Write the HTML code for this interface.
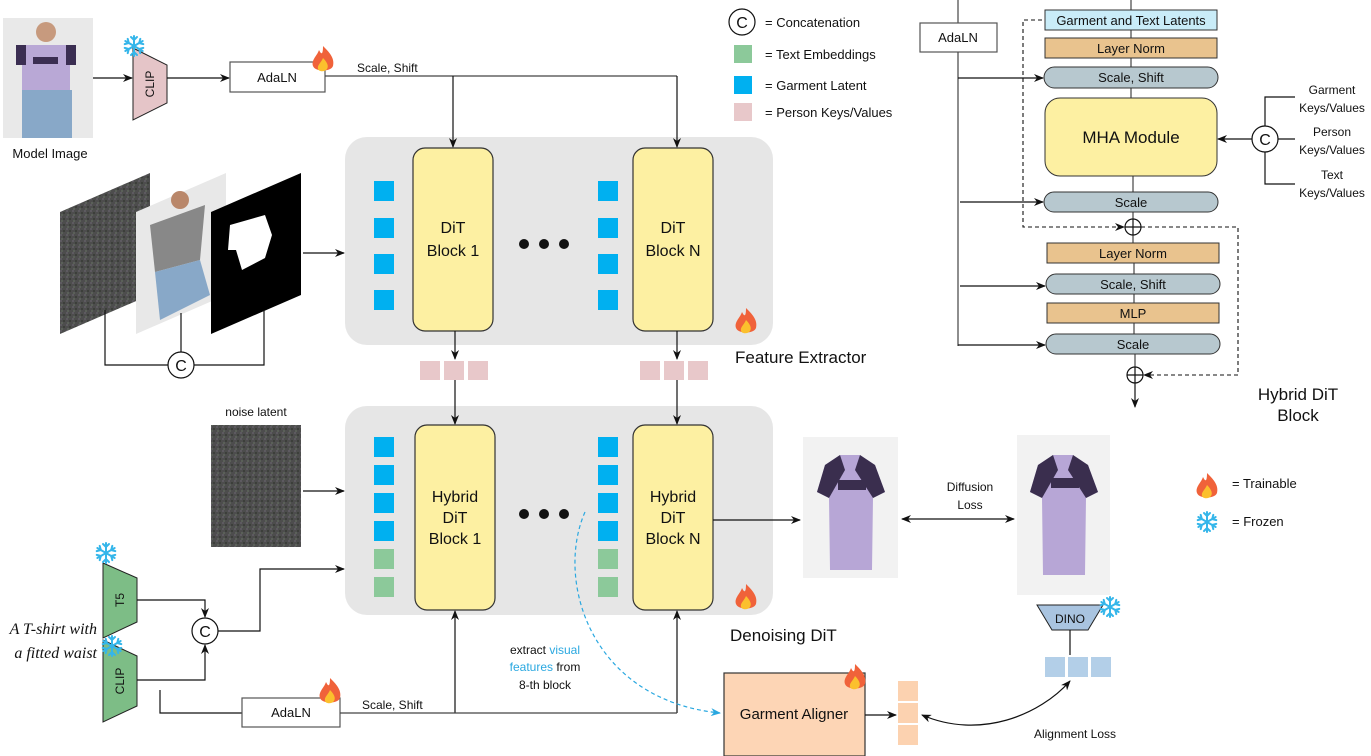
<!DOCTYPE html>
<html><head><meta charset="utf-8"><style>
html,body{margin:0;padding:0;background:#fff}
svg{display:block}
text{font-family:"Liberation Sans",sans-serif;fill:#111}
</style></head><body>
<svg width="1371" height="756" viewBox="0 0 1371 756" xmlns="http://www.w3.org/2000/svg">
<defs>
<marker id="ah" markerWidth="10" markerHeight="8" refX="9" refY="4" orient="auto" markerUnits="userSpaceOnUse"><path d="M0,0 L10,4 L0,8 L3,4 z" fill="#111"/></marker>
<marker id="ahb" markerWidth="10" markerHeight="8" refX="9" refY="4" orient="auto-start-reverse" markerUnits="userSpaceOnUse"><path d="M0,0 L10,4 L0,8 L3,4 z" fill="#111"/></marker>
<marker id="ahc" markerWidth="10" markerHeight="8" refX="9" refY="4" orient="auto" markerUnits="userSpaceOnUse"><path d="M0,0 L10,4 L0,8 L3,4 z" fill="#2aa8e0"/></marker>
<g id="fire"><path d="M0,-14 C6,-8 12,-2 10,6 C8,12 -8,12 -10,6 C-12,0 -6,-4 -4,-10 C-2,-6 0,-4 0,-14z" fill="#f0623a"/><path d="M0,-2 C4,2 6,6 4,9 C2,12 -4,12 -5,9 C-6,5 -2,3 0,-2z" fill="#fbc02d"/></g>
<g id="snow" stroke="#35b6ea" stroke-width="2" stroke-linecap="round">
<g id="arm"><line x1="0" y1="-10" x2="0" y2="10"/><path d="M-3,-9 L0,-6 L3,-9 M-3,9 L0,6 L3,9" fill="none"/></g>
<use href="#arm" transform="rotate(60)"/><use href="#arm" transform="rotate(120)"/>
</g>
<pattern id="noise" width="6" height="6" patternUnits="userSpaceOnUse"><rect width="6" height="6" fill="#4d4d4d"/><rect x="0" y="0" width="2" height="2" fill="#5d5a60"/><rect x="3" y="2" width="2" height="2" fill="#3c3f3a"/><rect x="1" y="4" width="2" height="2" fill="#5a6058"/></pattern>
</defs>

<!-- Model image -->
<rect x="3" y="18" width="90" height="120" fill="#e9e9e9"/>
<rect x="22" y="45" width="48" height="45" fill="#b9a8d6"/>
<rect x="16" y="45" width="10" height="20" fill="#3b2e52"/><rect x="66" y="45" width="10" height="20" fill="#3b2e52"/>
<rect x="33" y="57" width="25" height="7" fill="#3b2e52"/>
<circle cx="46" cy="32" r="10" fill="#c79a7e"/>
<rect x="22" y="90" width="50" height="48" fill="#88a8c8"/>
<text x="50" y="158" font-size="13" text-anchor="middle">Model Image</text>

<!-- CLIP top -->
<line x1="93" y1="78" x2="132" y2="78" stroke="#111" stroke-width="1.2" marker-end="url(#ah)"/>
<path d="M133,48 L167,65 L167,103 L133,120 Z" fill="#e5c5c8" stroke="#222" stroke-width="1"/>
<text x="0" y="0" font-size="12" transform="translate(154,84) rotate(-90)" text-anchor="middle">CLIP</text>
<use href="#snow" x="134" y="46"/>
<line x1="167" y1="78" x2="229" y2="78" stroke="#111" stroke-width="1.2" marker-end="url(#ah)"/>
<rect x="230" y="62" width="95" height="30" fill="#fff" stroke="#555" stroke-width="1.2"/>
<text x="277" y="82" font-size="13" text-anchor="middle">AdaLN</text>
<use href="#fire" x="323" y="60"/>
<path d="M325,76 L677,76" stroke="#444" stroke-width="1.2" fill="none"/>
<text x="357" y="72" font-size="12">Scale, Shift</text>

<!-- Stacked inputs -->
<path d="M60,212 L150,173 L150,295 L60,334 Z" fill="url(#noise)"/>
<path d="M136,212 L226,173 L226,295 L136,334 Z" fill="#e8e8e8"/>
<path d="M150,225 L205,205 L200,260 L155,272 Z" fill="#888"/>
<path d="M155,272 L200,260 L210,295 L160,320 Z" fill="#88a8c8"/>
<circle cx="180" cy="200" r="9" fill="#b9876a"/>
<path d="M211,212 L301,173 L301,295 L211,334 Z" fill="#000"/>
<path d="M230,225 L265,215 L272,235 L265,258 L242,270 L236,250 L228,250 Z" fill="#fff"/>
<path d="M105,310 L105,365 L168,365 M194,365 L264,365 L264,310 M181,313 L181,352" stroke="#111" stroke-width="1.2" fill="none"/>
<circle cx="181" cy="365" r="13" fill="#fff" stroke="#111" stroke-width="1.2"/>
<text x="181" y="371" font-size="16" text-anchor="middle">C</text>
<line x1="303" y1="253" x2="344" y2="253" stroke="#111" stroke-width="1.2" marker-end="url(#ah)"/>

<!-- Feature extractor -->
<rect x="345" y="137" width="428" height="208" rx="22" fill="#e6e6e6"/>
<line x1="453" y1="76" x2="453" y2="147" stroke="#111" stroke-width="1.2" marker-end="url(#ah)"/>
<line x1="677" y1="76" x2="677" y2="147" stroke="#111" stroke-width="1.2" marker-end="url(#ah)"/>
<rect x="413" y="148" width="80" height="183" rx="12" fill="#fdf0a2" stroke="#333" stroke-width="1.2"/>
<rect x="633" y="148" width="80" height="183" rx="12" fill="#fdf0a2" stroke="#333" stroke-width="1.2"/>
<text x="453" y="233" font-size="16" text-anchor="middle">DiT</text><text x="453" y="256" font-size="16" text-anchor="middle">Block 1</text>
<text x="673" y="233" font-size="16" text-anchor="middle">DiT</text><text x="673" y="256" font-size="16" text-anchor="middle">Block N</text>
<g fill="#00b0f0">
<rect x="374" y="181" width="20" height="20"/><rect x="374" y="218" width="20" height="20"/><rect x="374" y="254" width="20" height="20"/><rect x="374" y="290" width="20" height="20"/>
<rect x="598" y="181" width="20" height="20"/><rect x="598" y="218" width="20" height="20"/><rect x="598" y="254" width="20" height="20"/><rect x="598" y="290" width="20" height="20"/>
</g>
<g fill="#111"><circle cx="524" cy="244" r="5"/><circle cx="544" cy="244" r="5"/><circle cx="564" cy="244" r="5"/></g>
<use href="#fire" x="746" y="322"/>
<text x="735" y="363" font-size="17">Feature Extractor</text>
<line x1="455" y1="331" x2="455" y2="359" stroke="#111" stroke-width="1.2" marker-end="url(#ah)"/>
<line x1="677" y1="331" x2="677" y2="359" stroke="#111" stroke-width="1.2" marker-end="url(#ah)"/>
<g fill="#e8c8ca">
<rect x="420" y="361" width="20" height="19"/><rect x="444" y="361" width="20" height="19"/><rect x="468" y="361" width="20" height="19"/>
<rect x="640" y="361" width="20" height="19"/><rect x="664" y="361" width="20" height="19"/><rect x="688" y="361" width="20" height="19"/>
</g>

<!-- Denoising DiT -->
<text x="256" y="416" font-size="12" text-anchor="middle">noise latent</text>
<rect x="211" y="425" width="90" height="122" fill="url(#noise)"/>
<line x1="303" y1="491" x2="344" y2="491" stroke="#111" stroke-width="1.2" marker-end="url(#ah)"/>
<rect x="345" y="406" width="428" height="209" rx="22" fill="#e6e6e6"/>
<line x1="455" y1="380" x2="455" y2="424" stroke="#111" stroke-width="1.2" marker-end="url(#ah)"/>
<line x1="677" y1="380" x2="677" y2="424" stroke="#111" stroke-width="1.2" marker-end="url(#ah)"/>
<line x1="455" y1="713" x2="455" y2="611" stroke="#111" stroke-width="1.2" marker-end="url(#ah)"/>
<line x1="677" y1="713" x2="677" y2="611" stroke="#111" stroke-width="1.2" marker-end="url(#ah)"/>
<rect x="415" y="425" width="80" height="185" rx="12" fill="#fdf0a2" stroke="#333" stroke-width="1.2"/>
<rect x="633" y="425" width="80" height="185" rx="12" fill="#fdf0a2" stroke="#333" stroke-width="1.2"/>
<text x="455" y="502" font-size="16" text-anchor="middle">Hybrid</text><text x="455" y="523" font-size="16" text-anchor="middle">DiT</text><text x="455" y="544" font-size="16" text-anchor="middle">Block 1</text>
<text x="673" y="502" font-size="16" text-anchor="middle">Hybrid</text><text x="673" y="523" font-size="16" text-anchor="middle">DiT</text><text x="673" y="544" font-size="16" text-anchor="middle">Block N</text>
<g fill="#00b0f0">
<rect x="374" y="437" width="20" height="20"/><rect x="374" y="465" width="20" height="20"/><rect x="374" y="493" width="20" height="20"/><rect x="374" y="521" width="20" height="20"/>
<rect x="598" y="437" width="20" height="20"/><rect x="598" y="465" width="20" height="20"/><rect x="598" y="493" width="20" height="20"/><rect x="598" y="521" width="20" height="20"/>
</g>
<g fill="#8cc99a">
<rect x="374" y="549" width="20" height="20"/><rect x="374" y="577" width="20" height="20"/>
<rect x="598" y="549" width="20" height="20"/><rect x="598" y="577" width="20" height="20"/>
</g>
<g fill="#111"><circle cx="524" cy="514" r="5"/><circle cx="544" cy="514" r="5"/><circle cx="564" cy="514" r="5"/></g>
<use href="#fire" x="746" y="598"/>
<text x="730" y="641" font-size="17">Denoising DiT</text>

<!-- Text branch -->
<path d="M103,563 L137,578 L137,622 L103,638 Z" fill="#7dbd86" stroke="#222" stroke-width="1"/>
<text font-size="12" transform="translate(124,600) rotate(-90)" text-anchor="middle">T5</text>
<use href="#snow" x="106" y="553"/>
<path d="M103,640 L137,656 L137,706 L103,722 Z" fill="#7dbd86" stroke="#222" stroke-width="1"/>
<text font-size="12" transform="translate(124,681) rotate(-90)" text-anchor="middle">CLIP</text>
<use href="#snow" x="112" y="646"/>
<text x="97" y="634" font-size="16" font-style="italic" text-anchor="end" style="font-family:'Liberation Serif',serif">A T-shirt with</text>
<text x="97" y="658" font-size="16" font-style="italic" text-anchor="end" style="font-family:'Liberation Serif',serif">a fitted waist</text>
<path d="M137,600 L205,600 L205,617" stroke="#111" stroke-width="1.2" fill="none" marker-end="url(#ah)"/>
<path d="M137,680 L205,680 L205,645" stroke="#111" stroke-width="1.2" fill="none" marker-end="url(#ah)"/>
<circle cx="205" cy="631" r="13" fill="#fff" stroke="#111" stroke-width="1.2"/>
<text x="205" y="637" font-size="16" text-anchor="middle">C</text>
<path d="M218,631 L260,631 L260,569 L344,569" stroke="#111" stroke-width="1.2" fill="none" marker-end="url(#ah)"/>
<path d="M160,690 L160,713 L242,713" stroke="#111" stroke-width="1.2" fill="none"/>
<rect x="242" y="698" width="98" height="29" fill="#fff" stroke="#555" stroke-width="1.2"/>
<text x="291" y="717" font-size="13" text-anchor="middle">AdaLN</text>
<use href="#fire" x="330" y="692"/>
<path d="M340,713 L677,713" stroke="#444" stroke-width="1.2" fill="none"/>
<text x="362" y="709" font-size="12">Scale, Shift</text>
<text x="545" y="654" font-size="12" text-anchor="middle">extract <tspan fill="#2aa8e0">visual</tspan></text>
<text x="545" y="671" font-size="12" text-anchor="middle"><tspan fill="#2aa8e0">features</tspan> from</text>
<text x="545" y="689" font-size="12" text-anchor="middle">8-th block</text>
<path d="M585,512 C555,580 590,700 720,713" stroke="#2aa8e0" stroke-width="1.2" stroke-dasharray="4,3" fill="none" marker-end="url(#ahc)"/>

<!-- Garment aligner -->
<rect x="724" y="673" width="141" height="83" fill="#fdd5b5" stroke="#333" stroke-width="1.2"/>
<text x="794" y="719" font-size="15" text-anchor="middle">Garment Aligner</text>
<use href="#fire" x="855" y="678"/>
<line x1="865" y1="715" x2="896" y2="715" stroke="#111" stroke-width="1.2" marker-end="url(#ah)"/>
<g fill="#fcd2b0"><rect x="898" y="681" width="20" height="20"/><rect x="898" y="703" width="20" height="20"/><rect x="898" y="725" width="20" height="20"/></g>
<path d="M922,715 C980,740 1040,715 1070,681" stroke="#111" stroke-width="1.2" fill="none" marker-start="url(#ahb)" marker-end="url(#ah)"/>
<text x="1075" y="738" font-size="12" text-anchor="middle">Alignment Loss</text>

<!-- Outputs -->
<line x1="713" y1="520" x2="800" y2="520" stroke="#111" stroke-width="1.2" marker-end="url(#ah)"/>
<rect x="803" y="437" width="95" height="141" fill="#f2f2f2"/>
<path d="M825,465 L840,455 L860,455 L875,465 L885,492 L873,498 L872,570 L830,570 L829,498 L817,492 Z" fill="#b7a6d6"/>
<path d="M825,465 L840,455 L845,470 L829,498 L817,492 Z" fill="#3a2e4e"/><path d="M875,465 L860,455 L855,470 L873,498 L885,492 Z" fill="#3a2e4e"/>
<rect x="838" y="480" width="28" height="10" fill="#3a2e4e"/>
<rect x="1017" y="435" width="93" height="160" fill="#f2f2f2"/>
<path d="M1038,465 L1053,455 L1073,455 L1088,465 L1098,492 L1086,498 L1085,575 L1043,575 L1042,498 L1030,492 Z" fill="#b7a6d6"/>
<path d="M1038,465 L1053,455 L1058,470 L1042,498 L1030,492 Z" fill="#3a2e4e"/><path d="M1088,465 L1073,455 L1068,470 L1086,498 L1098,492 Z" fill="#3a2e4e"/>
<rect x="1051" y="478" width="28" height="10" fill="#3a2e4e"/>
<line x1="902" y1="519" x2="1014" y2="519" stroke="#111" stroke-width="1.2" marker-start="url(#ahb)" marker-end="url(#ah)"/>
<text x="970" y="491" font-size="12" text-anchor="middle">Diffusion</text>
<text x="970" y="509" font-size="12" text-anchor="middle">Loss</text>
<path d="M1037,605 L1103,605 L1088,630 L1052,630 Z" fill="#a9c4e0" stroke="#222" stroke-width="1"/>
<text x="1070" y="623" font-size="12" text-anchor="middle">DINO</text>
<use href="#snow" x="1110" y="607"/>
<line x1="1070" y1="630" x2="1070" y2="655" stroke="#111" stroke-width="1.2"/>
<g fill="#b3cfe8"><rect x="1045" y="657" width="20" height="20"/><rect x="1068" y="657" width="20" height="20"/><rect x="1091" y="657" width="20" height="20"/></g>

<!-- Legend -->
<circle cx="742" cy="22" r="13" fill="#fff" stroke="#111" stroke-width="1.2"/>
<text x="742" y="28" font-size="16" text-anchor="middle">C</text>
<text x="765" y="27" font-size="13">= Concatenation</text>
<rect x="734" y="45" width="18" height="18" fill="#8cc99a"/><text x="765" y="59" font-size="13">= Text Embeddings</text>
<rect x="734" y="76" width="18" height="18" fill="#00b0f0"/><text x="765" y="90" font-size="13">= Garment Latent</text>
<rect x="734" y="103" width="18" height="18" fill="#e8c8ca"/><text x="765" y="117" font-size="13">= Person Keys/Values</text>
<use href="#fire" x="1207" y="487"/><text x="1232" y="488" font-size="13">= Trainable</text>
<use href="#snow" x="1207" y="522"/><text x="1232" y="526" font-size="13">= Frozen</text>

<!-- Hybrid DiT Block detail -->
<line x1="958" y1="0" x2="958" y2="23" stroke="#444" stroke-width="1.2"/>
<rect x="920" y="23" width="77" height="29" fill="#fff" stroke="#555" stroke-width="1.2"/>
<text x="958" y="42" font-size="13" text-anchor="middle">AdaLN</text>
<path d="M958,52 L958,346" stroke="#444" stroke-width="1.2"/>
<line x1="958" y1="78" x2="1043" y2="78" stroke="#111" stroke-width="1.2" marker-end="url(#ah)"/>
<line x1="960" y1="202" x2="1043" y2="202" stroke="#111" stroke-width="1.2" marker-end="url(#ah)"/>
<line x1="960" y1="286" x2="1045" y2="286" stroke="#111" stroke-width="1.2" marker-end="url(#ah)"/>
<line x1="958" y1="345" x2="1045" y2="345" stroke="#111" stroke-width="1.2" marker-end="url(#ah)"/>
<g stroke="#444" stroke-width="1.2">
<line x1="1131" y1="0" x2="1131" y2="10"/><line x1="1131" y1="30" x2="1131" y2="98"/>
<line x1="1133" y1="176" x2="1133" y2="192"/><line x1="1133" y1="212" x2="1133" y2="243"/>
<line x1="1134" y1="263" x2="1134" y2="334"/><line x1="1135" y1="354" x2="1135" y2="367"/>
</g>
<line x1="1135" y1="383" x2="1135" y2="407" stroke="#111" stroke-width="1.2" marker-end="url(#ah)"/>
<rect x="1045" y="10" width="172" height="20" fill="#c9ecf8" stroke="#333" stroke-width="1"/>
<text x="1131" y="25" font-size="13" text-anchor="middle">Garment and Text Latents</text>
<rect x="1045" y="38" width="172" height="20" fill="#e9c38e" stroke="#333" stroke-width="1"/>
<text x="1131" y="53" font-size="13" text-anchor="middle">Layer Norm</text>
<rect x="1044" y="67" width="174" height="21" rx="10.5" fill="#b7c8cf" stroke="#333" stroke-width="1"/>
<text x="1131" y="82" font-size="13" text-anchor="middle">Scale, Shift</text>
<rect x="1045" y="98" width="172" height="78" rx="15" fill="#fdf0a2" stroke="#333" stroke-width="1"/>
<text x="1131" y="143" font-size="17" text-anchor="middle">MHA Module</text>
<rect x="1044" y="192" width="174" height="20" rx="10" fill="#b7c8cf" stroke="#333" stroke-width="1"/>
<text x="1131" y="207" font-size="13" text-anchor="middle">Scale</text>
<rect x="1047" y="243" width="172" height="20" fill="#e9c38e" stroke="#333" stroke-width="1"/>
<text x="1133" y="258" font-size="13" text-anchor="middle">Layer Norm</text>
<rect x="1046" y="274" width="174" height="20" rx="10" fill="#b7c8cf" stroke="#333" stroke-width="1"/>
<text x="1133" y="289" font-size="13" text-anchor="middle">Scale, Shift</text>
<rect x="1047" y="303" width="172" height="20" fill="#e9c38e" stroke="#333" stroke-width="1"/>
<text x="1133" y="318" font-size="13" text-anchor="middle">MLP</text>
<rect x="1046" y="334" width="174" height="20" rx="10" fill="#b7c8cf" stroke="#333" stroke-width="1"/>
<text x="1133" y="349" font-size="13" text-anchor="middle">Scale</text>
<circle cx="1133" cy="227" r="8" fill="#fff" stroke="#111" stroke-width="1.2"/>
<path d="M1125,227 L1141,227 M1133,219 L1133,235" stroke="#111" stroke-width="1.2"/>
<circle cx="1135" cy="375" r="8" fill="#fff" stroke="#111" stroke-width="1.2"/>
<path d="M1127,375 L1143,375 M1135,367 L1135,383" stroke="#111" stroke-width="1.2"/>
<path d="M1042,20 L1023,20 L1023,227 L1124,227" stroke="#111" stroke-width="1.1" stroke-dasharray="4,3" fill="none" marker-end="url(#ah)"/>
<path d="M1141,227 L1238,227 L1238,375 L1144,375" stroke="#111" stroke-width="1.1" stroke-dasharray="4,3" fill="none" marker-end="url(#ah)"/>
<path d="M1295,97 L1265,97 L1265,184 L1295,184 M1278,139 L1295,139" stroke="#111" stroke-width="1.2" fill="none"/>
<line x1="1252" y1="139" x2="1218" y2="139" stroke="#111" stroke-width="1.2" marker-end="url(#ah)"/>
<circle cx="1265" cy="139" r="13" fill="#fff" stroke="#111" stroke-width="1.2"/>
<text x="1265" y="145" font-size="16" text-anchor="middle">C</text>
<g font-size="12" text-anchor="middle">
<text x="1332" y="94">Garment</text><text x="1332" y="112">Keys/Values</text>
<text x="1332" y="136">Person</text><text x="1332" y="154">Keys/Values</text>
<text x="1332" y="179">Text</text><text x="1332" y="197">Keys/Values</text>
</g>
<text x="1298" y="400" font-size="17" text-anchor="middle">Hybrid DiT</text>
<text x="1298" y="421" font-size="17" text-anchor="middle">Block</text>
</svg>
</body></html>
